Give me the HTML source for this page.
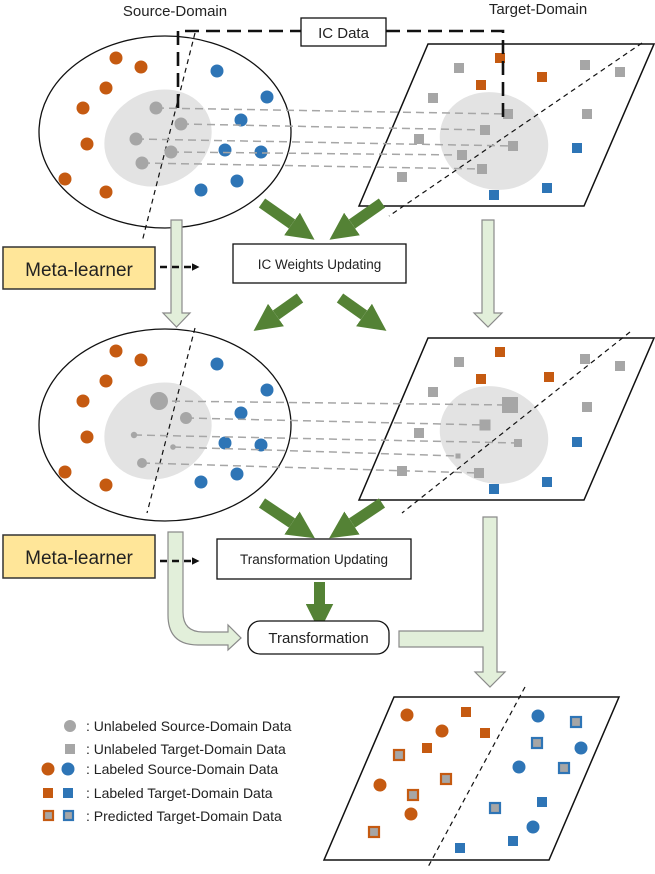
<!DOCTYPE html>
<html><head><meta charset="utf-8"><style>
html,body{margin:0;padding:0;background:#fff;}
svg{display:block;font-family:"Liberation Sans",sans-serif;}
</style></head><body>
<svg width="655" height="874" viewBox="0 0 655 874" xmlns="http://www.w3.org/2000/svg">
<defs>
<marker id="gh" viewBox="0 0 10 10" refX="0" refY="5" markerWidth="2.5" markerHeight="2.5" orient="auto" markerUnits="strokeWidth"><path d="M0,0 L10,5 L0,10 z" fill="#548235"/></marker>
<marker id="bh" viewBox="0 0 10 10" refX="0" refY="5" markerWidth="3" markerHeight="3" orient="auto" markerUnits="strokeWidth"><path d="M0,0 L10,5 L0,10 z" fill="#111"/></marker>
</defs>

<text x="175" y="16" font-size="15" text-anchor="middle" fill="#222">Source-Domain</text>
<text x="538" y="14" font-size="15" text-anchor="middle" fill="#222">Target-Domain</text>

<!-- Section 1 source -->
<ellipse cx="165" cy="132" rx="126" ry="96" fill="none" stroke="#111" stroke-width="1.3"/>
<ellipse cx="158" cy="138" rx="55" ry="47" fill="#e3e3e3" transform="rotate(-25 158 138)"/>
<line x1="195" y1="33" x2="142" y2="242" stroke="#111" stroke-width="1.2" stroke-dasharray="5,4"/>
<g fill="#C55A11">
<circle cx="116" cy="58" r="6.5"/><circle cx="141" cy="67" r="6.5"/><circle cx="106" cy="88" r="6.5"/><circle cx="83" cy="108" r="6.5"/><circle cx="87" cy="144" r="6.5"/><circle cx="65" cy="179" r="6.5"/><circle cx="106" cy="192" r="6.5"/>
</g>
<g fill="#2E75B6">
<circle cx="217" cy="71" r="6.5"/><circle cx="267" cy="97" r="6.5"/><circle cx="241" cy="120" r="6.5"/><circle cx="225" cy="150" r="6.5"/><circle cx="261" cy="152" r="6.5"/><circle cx="237" cy="181" r="6.5"/><circle cx="201" cy="190" r="6.5"/>
</g>

<!-- Section 1 target -->
<polygon points="428,44 654,44 584,206 359,206" fill="none" stroke="#111" stroke-width="1.5"/>
<ellipse cx="494" cy="141" rx="55" ry="48" fill="#e3e3e3" transform="rotate(20 494 141)"/>
<line x1="642" y1="43" x2="389" y2="216" stroke="#111" stroke-width="1.2" stroke-dasharray="5,4"/>
<g fill="#C55A11"><rect x="495" y="53" width="10" height="10"/><rect x="476" y="80" width="10" height="10"/><rect x="537" y="72" width="10" height="10"/></g>
<g fill="#A6A6A6"><rect x="454" y="63" width="10" height="10"/><rect x="428" y="93" width="10" height="10"/><rect x="580" y="60" width="10" height="10"/><rect x="615" y="67" width="10" height="10"/><rect x="582" y="109" width="10" height="10"/><rect x="414" y="134" width="10" height="10"/><rect x="397" y="172" width="10" height="10"/></g>
<g fill="#2E75B6"><rect x="572" y="143" width="10" height="10"/><rect x="542" y="183" width="10" height="10"/><rect x="489" y="190" width="10" height="10"/></g>
<g fill="#A6A6A6"><rect x="503" y="109" width="10" height="10"/><rect x="480" y="125" width="10" height="10"/><rect x="508" y="141" width="10" height="10"/><rect x="457" y="150" width="10" height="10"/><rect x="477" y="164" width="10" height="10"/></g>
<g stroke="#A6A6A6" stroke-width="1.5" stroke-dasharray="8,5">
<line x1="156" y1="108" x2="508" y2="114"/><line x1="181" y1="124" x2="485" y2="130"/><line x1="136" y1="139" x2="513" y2="146"/><line x1="171" y1="152" x2="462" y2="155"/><line x1="142" y1="163" x2="482" y2="169"/>
</g>
<g fill="#A6A6A6"><circle cx="156" cy="108" r="6.5"/><circle cx="181" cy="124" r="6.5"/><circle cx="136" cy="139" r="6.5"/><circle cx="171" cy="152" r="6.5"/><circle cx="142" cy="163" r="6.5"/></g>

<!-- IC data -->
<g stroke="#111" stroke-width="2.6" stroke-dasharray="14,7" fill="none">
<polyline points="178,108 178,31 301,31"/>
<polyline points="386,31 503,31 503,118"/>
</g>
<rect x="301" y="18" width="85" height="28" fill="#fff" stroke="#111" stroke-width="1.3"/>
<text x="343.5" y="38" font-size="15" text-anchor="middle" fill="#222">IC Data</text>

<!-- light green arrows section 1 -->
<g fill="#E2EFDA" stroke="#8a8a8a" stroke-width="1.2">
<polygon points="171,220 182,220 182,313 190,313 176.5,327 163,313 171,313"/>
<polygon points="482,220 494,220 494,313 502,313 488,327 474,313 482,313"/>
</g>

<!-- green arrows 1 -->
<g stroke="#548235" stroke-width="11">
<line x1="262" y1="203" x2="292" y2="224" marker-end="url(#gh)"/>
<line x1="382" y1="203" x2="352" y2="224" marker-end="url(#gh)"/>
<line x1="300" y1="298" x2="276" y2="315" marker-end="url(#gh)"/>
<line x1="340" y1="298" x2="364" y2="315" marker-end="url(#gh)"/>
</g>

<!-- meta learner 1 -->
<rect x="3" y="247" width="152" height="42" fill="#FFE699" stroke="#333" stroke-width="1.5"/>
<text x="79" y="276" font-size="19" text-anchor="middle" fill="#222">Meta-learner</text>
<line x1="160" y1="267" x2="192" y2="267" stroke="#111" stroke-width="2.5" stroke-dasharray="7,5" marker-end="url(#bh)"/>
<rect x="233" y="244" width="173" height="39" fill="#fff" stroke="#111" stroke-width="1.3"/>
<text x="319.5" y="269" font-size="13.5" text-anchor="middle" fill="#222">IC Weights Updating</text>

<!-- Section 2 source -->
<ellipse cx="165" cy="425" rx="126" ry="96" fill="none" stroke="#111" stroke-width="1.3"/>
<ellipse cx="158" cy="431" rx="55" ry="47" fill="#e3e3e3" transform="rotate(-25 158 431)"/>
<line x1="195" y1="328" x2="147" y2="513" stroke="#111" stroke-width="1.2" stroke-dasharray="5,4"/>
<g fill="#C55A11">
<circle cx="116" cy="351" r="6.5"/><circle cx="141" cy="360" r="6.5"/><circle cx="106" cy="381" r="6.5"/><circle cx="83" cy="401" r="6.5"/><circle cx="87" cy="437" r="6.5"/><circle cx="65" cy="472" r="6.5"/><circle cx="106" cy="485" r="6.5"/>
</g>
<g fill="#2E75B6">
<circle cx="217" cy="364" r="6.5"/><circle cx="267" cy="390" r="6.5"/><circle cx="241" cy="413" r="6.5"/><circle cx="225" cy="443" r="6.5"/><circle cx="261" cy="445" r="6.5"/><circle cx="237" cy="474" r="6.5"/><circle cx="201" cy="482" r="6.5"/>
</g>

<!-- Section 2 target -->
<polygon points="428,338 654,338 584,500 359,500" fill="none" stroke="#111" stroke-width="1.5"/>
<ellipse cx="494" cy="435" rx="55" ry="48" fill="#e3e3e3" transform="rotate(20 494 435)"/>
<line x1="630" y1="332" x2="402" y2="513" stroke="#111" stroke-width="1.2" stroke-dasharray="5,4"/>
<g fill="#C55A11"><rect x="495" y="347" width="10" height="10"/><rect x="476" y="374" width="10" height="10"/><rect x="544" y="372" width="10" height="10"/></g>
<g fill="#A6A6A6"><rect x="454" y="357" width="10" height="10"/><rect x="428" y="387" width="10" height="10"/><rect x="580" y="354" width="10" height="10"/><rect x="615" y="361" width="10" height="10"/><rect x="582" y="402" width="10" height="10"/><rect x="414" y="428" width="10" height="10"/><rect x="397" y="466" width="10" height="10"/></g>
<g fill="#2E75B6"><rect x="572" y="437" width="10" height="10"/><rect x="542" y="477" width="10" height="10"/><rect x="489" y="484" width="10" height="10"/></g>
<g stroke="#A6A6A6" stroke-width="1.5" stroke-dasharray="8,5">
<line x1="159" y1="401" x2="510" y2="405"/><line x1="186" y1="418" x2="485" y2="425"/><line x1="134" y1="435" x2="518" y2="443"/><line x1="173" y1="447" x2="458" y2="456"/><line x1="142" y1="463" x2="479" y2="473"/>
</g>
<g fill="#A6A6A6"><rect x="502" y="397" width="16" height="16"/><rect x="479.5" y="419.5" width="11" height="11"/><rect x="514" y="439" width="8" height="8"/><rect x="455.5" y="453.5" width="5" height="5"/><rect x="474" y="468" width="10" height="10"/>
<circle cx="159" cy="401" r="9"/><circle cx="186" cy="418" r="6"/><circle cx="134" cy="435" r="3.2"/><circle cx="173" cy="447" r="2.8"/><circle cx="142" cy="463" r="5"/></g>

<!-- green arrows 2 -->
<g stroke="#548235" stroke-width="11">
<line x1="262" y1="503" x2="292" y2="523" marker-end="url(#gh)"/>
<line x1="382" y1="503" x2="352" y2="523" marker-end="url(#gh)"/>
<line x1="319.5" y1="582" x2="319.5" y2="604" marker-end="url(#gh)"/>
</g>

<!-- light green L and T arrows -->
<g fill="#E2EFDA" stroke="#8a8a8a" stroke-width="1.2">
<path d="M168,532 L183,532 L183,612 Q183,632 203,632 L228,632 L228,625 L241,638 L228,650 L228,645 L198,645 Q168,645 168,615 Z"/>
<polygon points="483,517 497,517 497,672 505,672 490,687 475,672 483,672 483,647 399,647 399,631 483,631"/>
</g>

<!-- meta learner 2 -->
<rect x="3" y="535" width="152" height="43" fill="#FFE699" stroke="#333" stroke-width="1.5"/>
<text x="79" y="564" font-size="19" text-anchor="middle" fill="#222">Meta-learner</text>
<line x1="160" y1="561" x2="192" y2="561" stroke="#111" stroke-width="2.5" stroke-dasharray="7,5" marker-end="url(#bh)"/>
<rect x="217" y="539" width="194" height="40" fill="#fff" stroke="#111" stroke-width="1.3"/>
<text x="314" y="564" font-size="13.5" text-anchor="middle" fill="#222">Transformation Updating</text>
<rect x="248" y="621" width="141" height="33" rx="12" fill="#fff" stroke="#111" stroke-width="1.3"/>
<text x="318.5" y="643" font-size="15" text-anchor="middle" fill="#222">Transformation</text>

<!-- bottom parallelogram -->
<polygon points="394,697 619,697 549,860 324,860" fill="none" stroke="#111" stroke-width="1.5"/>
<line x1="525" y1="687" x2="428" y2="867" stroke="#111" stroke-width="1.2" stroke-dasharray="5,4"/>
<g fill="#C55A11"><circle cx="407" cy="715" r="6.5"/><circle cx="442" cy="731" r="6.5"/><circle cx="380" cy="785" r="6.5"/><circle cx="411" cy="814" r="6.5"/>
<rect x="461" y="707" width="10" height="10"/><rect x="480" y="728" width="10" height="10"/><rect x="422" y="743" width="10" height="10"/></g>
<g fill="#A6A6A6" stroke="#C55A11" stroke-width="2.2"><rect x="394" y="750" width="10" height="10"/><rect x="441" y="774" width="10" height="10"/><rect x="408" y="790" width="10" height="10"/><rect x="369" y="827" width="10" height="10"/></g>
<g fill="#2E75B6"><circle cx="538" cy="716" r="6.5"/><circle cx="581" cy="748" r="6.5"/><circle cx="519" cy="767" r="6.5"/><circle cx="533" cy="827" r="6.5"/>
<rect x="537" y="797" width="10" height="10"/><rect x="508" y="836" width="10" height="10"/><rect x="455" y="843" width="10" height="10"/></g>
<g fill="#A6A6A6" stroke="#2E75B6" stroke-width="2.2"><rect x="571" y="717" width="10" height="10"/><rect x="532" y="738" width="10" height="10"/><rect x="559" y="763" width="10" height="10"/><rect x="490" y="803" width="10" height="10"/></g>

<!-- legend -->
<circle cx="70" cy="726" r="6" fill="#A6A6A6"/>
<rect x="65" y="744" width="10" height="10" fill="#A6A6A6"/>
<circle cx="48" cy="769" r="6.5" fill="#C55A11"/><circle cx="68" cy="769" r="6.5" fill="#2E75B6"/>
<rect x="43" y="788" width="10" height="10" fill="#C55A11"/><rect x="63" y="788" width="10" height="10" fill="#2E75B6"/>
<rect x="44" y="811" width="9" height="9" fill="#A6A6A6" stroke="#C55A11" stroke-width="2.2"/><rect x="64" y="811" width="9" height="9" fill="#A6A6A6" stroke="#2E75B6" stroke-width="2.2"/>
<g font-size="14" fill="#222">
<text x="86" y="731">: Unlabeled Source-Domain Data</text>
<text x="86" y="754">: Unlabeled Target-Domain Data</text>
<text x="86" y="774">: Labeled Source-Domain Data</text>
<text x="86" y="798">: Labeled Target-Domain Data</text>
<text x="86" y="821">: Predicted Target-Domain Data</text>
</g>
</svg>
</body></html>
